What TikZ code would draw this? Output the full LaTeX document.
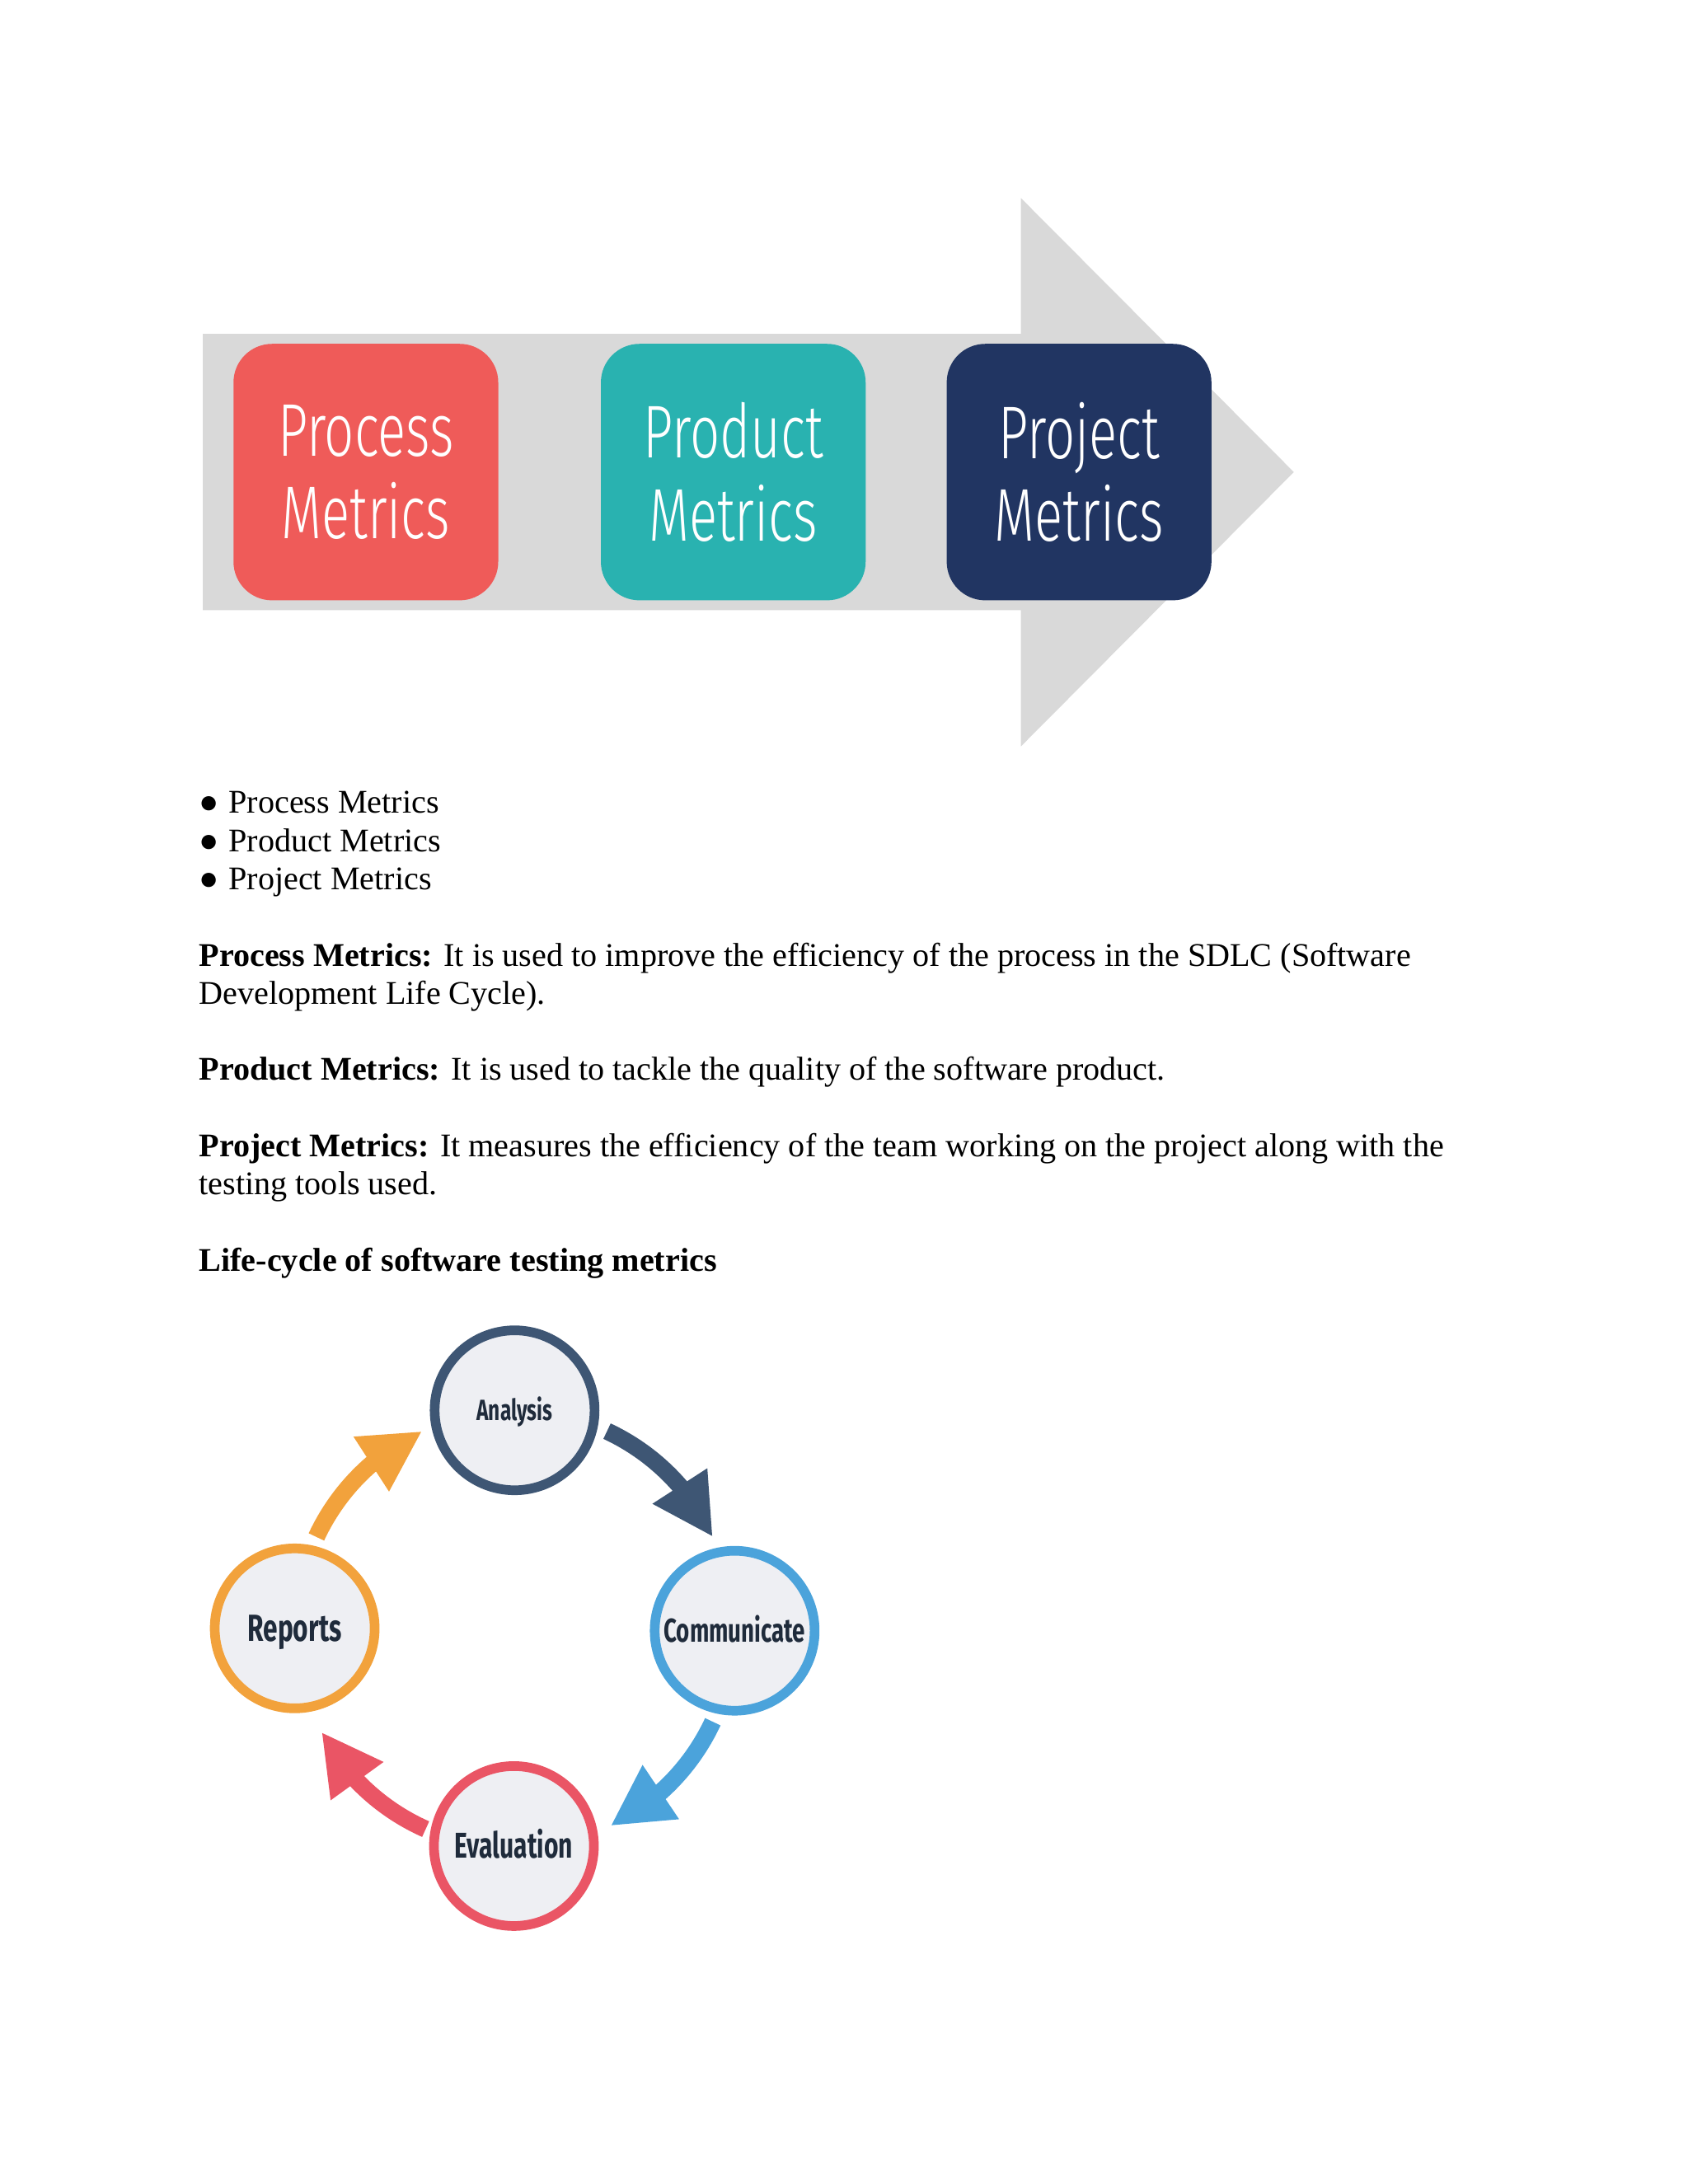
\documentclass[tikz,border=0pt]{standalone}
\usepackage{fontspec}
\setmainfont{Liberation Serif}
\newfontfamily\boxfont[FakeStretch=0.7]{Fira Sans Light}
\newfontfamily\cyclefont[FakeStretch=0.69]{Fira Sans}
\usetikzlibrary{arrows.meta,bending}
\definecolor{arrowgray}{HTML}{D9D9D9}
\definecolor{procred}{HTML}{EF5B59}
\definecolor{prodteal}{HTML}{29B2B0}
\definecolor{projnavy}{HTML}{213562}
\definecolor{cycslate}{HTML}{3E5674}
\definecolor{cycblue}{HTML}{4BA3DB}
\definecolor{cycred}{HTML}{EA5565}
\definecolor{cycorange}{HTML}{F2A23C}
\definecolor{cycfill}{HTML}{EEEFF3}
\definecolor{cyctext}{HTML}{1F2B3B}
\tikzset{
  mbox/.style={rounded corners=14pt, minimum width=96pt, minimum height=93pt, inner sep=0pt,
    text=white, align=center, font=\boxfont\fontsize{27.1pt}{30.1pt}\selectfont},
  bodytext/.style={anchor=base west, inner sep=0pt, font=\fontsize{12pt}{13.8pt}\selectfont},
  cyc/.style={circle, draw, line width=3.5pt, fill=cycfill, minimum size=58pt, inner sep=0pt,
    text=cyctext, text depth=0pt},
  cycarrow/.style={line width=6.2pt, -{Triangle[width=22pt, length=22pt]}}
}
\begin{document}
\begin{tikzpicture}[x=0.505pt,y=-0.505pt]
\useasboundingbox[fill=white] (0,0) rectangle (1212,1568.3);
% big gray arrow
\fill[arrowgray] (145.6,239.8) -- (733,239.8) -- (733,142.2) -- (929,339)
  -- (733,536) -- (733,438.2) -- (145.6,438.2) -- cycle;
% metric boxes
\node[mbox, fill=procred] (proc) at (262.7,339) {Process\\Metrics};
\node[mbox, fill=prodteal] (prod) at (526.5,339) {Product\\Metrics};
\node[mbox, fill=projnavy] (proj) at (774.8,339) {Project\\Metrics};
% body text
\node[bodytext] (b1) at (142.6,584) {\makebox[10.7pt][l]{●}Process Metrics};
\node[bodytext] (b2) at (142.6,611.4) {\makebox[10.7pt][l]{●}Product Metrics};
\node[bodytext] (b3) at (142.6,638.8) {\makebox[10.7pt][l]{●}Project Metrics};
\node[bodytext] (p1a) at (142.6,693.6) {\textbf{Process Metrics:} It is used to improve the efficiency of the process in the SDLC (Software};
\node[bodytext] (p1b) at (142.6,721) {Development Life Cycle).};
\node[bodytext] (p2a) at (142.6,775.8) {\textbf{Product Metrics:} It is used to tackle the quality of the software product.};
\node[bodytext] (p3a) at (142.6,830.6) {\textbf{Project Metrics:} It measures the efficiency of the team working on the project along with the};
\node[bodytext] (p3b) at (142.6,858) {testing tools used.};
\node[bodytext] (head) at (142.6,912.8) {\textbf{Life-cycle of software testing metrics}};
% life cycle
\coordinate (ring) at (369.5,1170);
\node[cyc, draw=cycslate, text height=7.3pt, font=\cyclefont\bfseries\fontsize{10.6pt}{12pt}\selectfont] (ana) at (369.5,1012.7) {Analysis};
\node[cyc, draw=cycblue, text height=8.3pt, font=\cyclefont\bfseries\fontsize{12pt}{14pt}\selectfont] (com) at (527.5,1171) {Communicate};
\node[cyc, draw=cycred, text height=9pt, font=\cyclefont\bfseries\fontsize{13pt}{15pt}\selectfont] (eva) at (369,1325.6) {Evaluation};
\node[cyc, draw=cycorange, text height=9.4pt, font=\cyclefont\bfseries\fontsize{13.7pt}{16pt}\selectfont] (rep) at (211.6,1169.3) {Reports};
\draw[cycarrow, cycslate] ([shift={(65:79.3pt)}]ring) arc[start angle=65, end angle=25, radius=79.3pt];
\draw[cycarrow, cycblue] ([shift={(-25:79.3pt)}]ring) arc[start angle=-25, end angle=-64, radius=79.3pt];
\draw[cycarrow, cycred] ([shift={(246:79.3pt)}]ring) arc[start angle=246, end angle=208, radius=79.3pt];
\draw[cycarrow, cycorange] ([shift={(155:79.3pt)}]ring) arc[start angle=155, end angle=115, radius=79.3pt];
\end{tikzpicture}
\end{document}
